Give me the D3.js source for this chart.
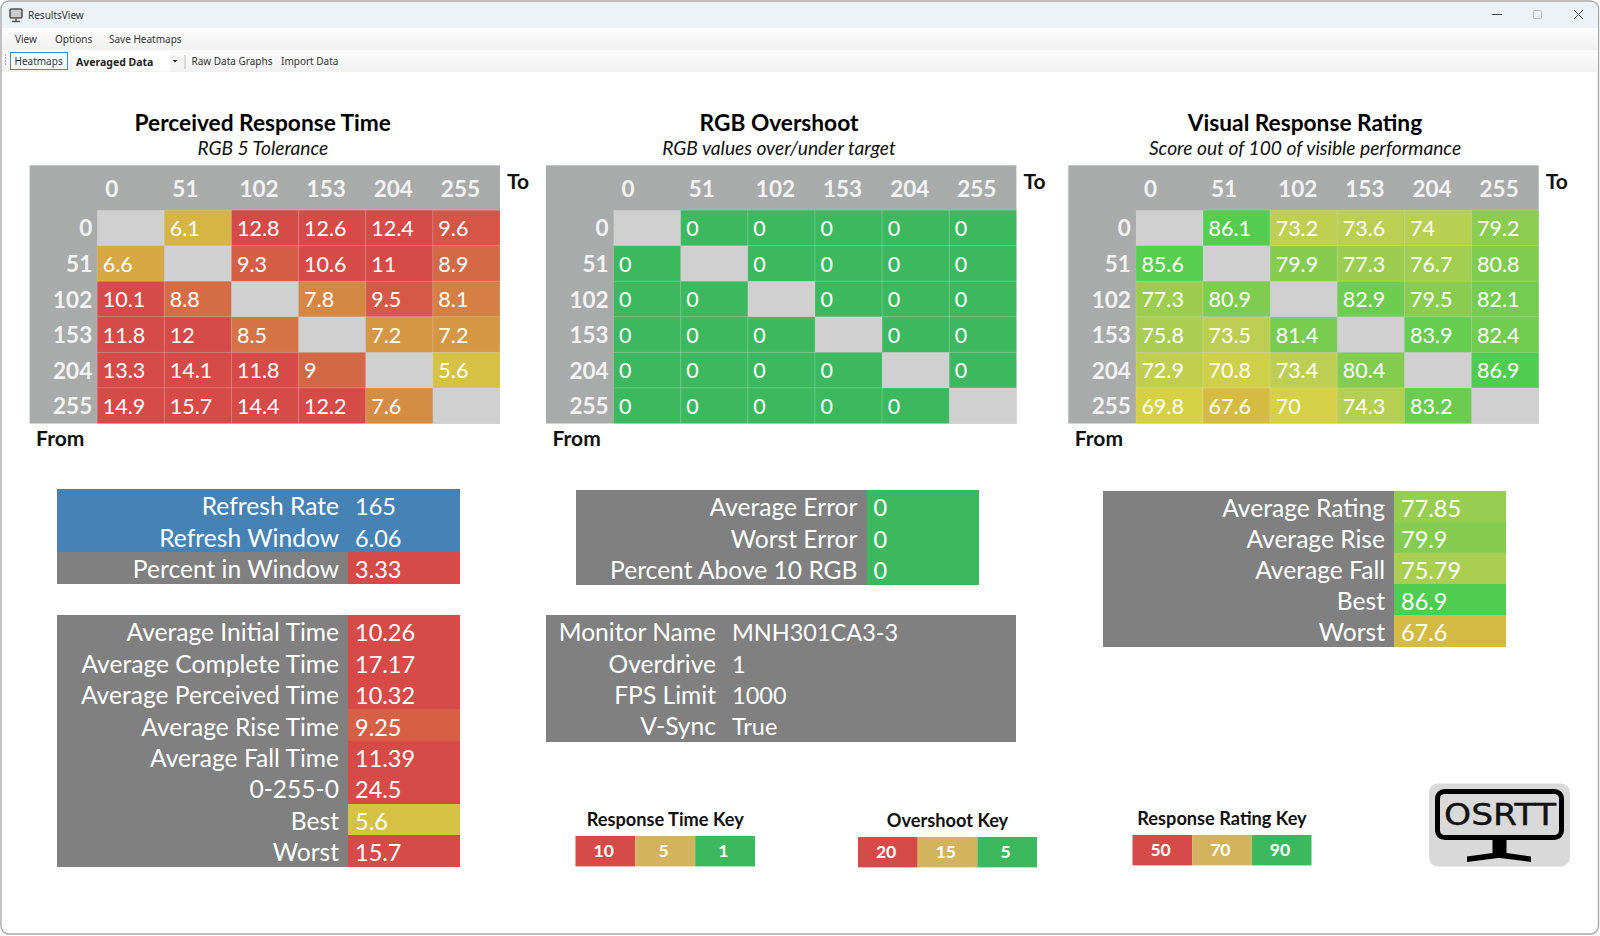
<!DOCTYPE html>
<html>
<head>
<meta charset="utf-8">
<title>ResultsView</title>
<script src="https://cdn.jsdelivr.net/npm/d3@7"></script>
<style>
html,body{margin:0;padding:0;background:#fff;overflow:hidden}
svg{display:block}
text{font-family:Lato,"Noto Sans",sans-serif}
.ui{font-family:"Noto Sans",sans-serif;font-size:10px;fill:#333}
</style>
</head>
<body>
<svg id="chart" width="1600" height="936"></svg>
<script>
// RGB levels tested on both axes
const levels = [0, 51, 102, 153, 204, 255];

// From (row) -> To (column) results; null marks the untested diagonal
const responseTimes = [
  [null, 6.1, 12.8, 12.6, 12.4, 9.6],
  [6.6, null, 9.3, 10.6, 11, 8.9],
  [10.1, 8.8, null, 7.8, 9.5, 8.1],
  [11.8, 12, 8.5, null, 7.2, 7.2],
  [13.3, 14.1, 11.8, 9, null, 5.6],
  [14.9, 15.7, 14.4, 12.2, 7.6, null]
];
const overshoot = [
  [null, 0, 0, 0, 0, 0],
  [0, null, 0, 0, 0, 0],
  [0, 0, null, 0, 0, 0],
  [0, 0, 0, null, 0, 0],
  [0, 0, 0, 0, null, 0],
  [0, 0, 0, 0, 0, null]
];
const ratings = [
  [null, 86.1, 73.2, 73.6, 74, 79.2],
  [85.6, null, 79.9, 77.3, 76.7, 80.8],
  [77.3, 80.9, null, 82.9, 79.5, 82.1],
  [75.8, 73.5, 81.4, null, 83.9, 82.4],
  [72.9, 70.8, 73.4, 80.4, null, 86.9],
  [69.8, 67.6, 70, 74.3, 83.2, null]
];

// Summary tables
const refreshLabels = ["Refresh Rate", "Refresh Window", "Percent in Window"];
const refreshValues = ["165", "6.06", "3.33"];
const timeLabels = ["Average Initial Time", "Average Complete Time", "Average Perceived Time", "Average Rise Time", "Average Fall Time", "0-255-0", "Best", "Worst"];
const timeValues = [10.26, 17.17, 10.32, 9.25, 11.39, 24.5, 5.6, 15.7];
const errorLabels = ["Average Error", "Worst Error", "Percent Above 10 RGB"];
const errorValues = [0, 0, 0];
const infoLabels = ["Monitor Name", "Overdrive", "FPS Limit", "V-Sync"];
const infoValues = ["MNH301CA3-3", "1", "1000", "True"];
const ratingLabels = ["Average Rating", "Average Rise", "Average Fall", "Best", "Worst"];
const ratingValues = [77.85, 79.9, 75.79, 86.9, 67.6];

// Colour keys
const timeKey = [10, 5, 1];
const overshootKey = [20, 15, 5];
const ratingKey = [50, 70, 90];

const RED = "#d64a47", GOLD = "#d4b35f", GREEN = "#3cb95f";
const HEAD = "#a9aaaa", EMPTY = "#d0d0d0", SLATE = "#808080", BLUE = "#4682b4";

const timeColor = d3.scaleLinear()
  .domain([1, 5.6, 6.6, 7.6, 8.9, 10])
  .range([GREEN, "#d5c244", "#d6a844", "#d58c44", "#d46a45", RED])
  .clamp(true);
const overshootColor = d3.scaleLinear()
  .domain([5, 15, 20]).range([GREEN, GOLD, RED]).clamp(true);
const ratingColor = d3.scaleLinear()
  .domain([50, 67.6, 69.8, 73.5, 80, 86.9])
  .range([RED, "#d4bc44", "#d6d045", "#bccf52", "#85cc50", "#4fcd50"])
  .clamp(true);

const svg = d3.select("#chart");

// Application window: title bar, menu, toolbar
function drawWindowChrome() {
  svg.append("rect").attr("x", 1).attr("y", 1).attr("width", 1597.5).attr("height", 933)
    .attr("rx", 8).attr("fill", "#fff").attr("stroke", "#a8a8a8").attr("stroke-width", 1.4);
  svg.append("path").attr("d", "M2,28V9a7,7 0 0 1 7,-7H1591a7,7 0 0 1 7,7V28Z").attr("fill", "#ecf2f6");
  const grad = svg.append("defs").append("linearGradient")
    .attr("id", "menuFade").attr("x1", 0).attr("x2", 0).attr("y1", 0).attr("y2", 1);
  grad.append("stop").attr("offset", 0).attr("stop-color", "#fcfcfc");
  grad.append("stop").attr("offset", 1).attr("stop-color", "#f1f1f1");
  svg.append("rect").attr("x", 2).attr("y", 28).attr("width", 1596).attr("height", 22).attr("fill", "url(#menuFade)");
  svg.append("rect").attr("x", 2).attr("y", 50).attr("width", 1596).attr("height", 22).attr("fill", "url(#menuFade)");

  // Window icon
  const icon = svg.append("g").attr("fill", "none").attr("stroke", "#555");
  icon.append("rect").attr("x", 10).attr("y", 9).attr("width", 12).attr("height", 9).attr("rx", 1.5).attr("stroke-width", 1.6).attr("fill", "#ccc");
  icon.append("path").attr("d", "M16,18v3M12,21.5h8").attr("stroke-width", 1.6);

  svg.append("text").attr("class", "ui").attr("x", 28).attr("y", 19).text("ResultsView");
  [["View", 15], ["Options", 55], ["Save Heatmaps", 109]].forEach(([t, x]) =>
    svg.append("text").attr("class", "ui").attr("x", x).attr("y", 43).text(t));

  svg.selectAll(".grip").data([55, 58, 61, 64]).join("circle")
    .attr("cx", 5.5).attr("cy", d => d).attr("r", 0.7).attr("fill", "#999");

  svg.append("rect").attr("x", 10.5).attr("y", 52.5).attr("width", 57).attr("height", 17)
    .attr("fill", "#f6fbff").attr("stroke", "#3d8bd0").attr("stroke-width", 1);
  svg.append("text").attr("class", "ui").attr("x", 14.500).attr("y", 64.5).text("Heatmaps");
  svg.append("rect").attr("x", 72).attr("y", 51).attr("width", 98).attr("height", 20).attr("fill", "#fff");
  svg.append("text").attr("class", "ui").attr("x", 76).attr("y", 65.5)
    .style("font-size", "10.5px").style("font-weight", 700).style("fill", "#222").text("Averaged Data");
  svg.append("path").attr("d", "M172.5,60h5l-2.5,2.5Z").attr("fill", "#222");
  svg.append("line").attr("x1", 185).attr("x2", 185).attr("y1", 55).attr("y2", 69).attr("stroke", "#bbb");
  svg.append("text").attr("class", "ui").attr("x", 191.5).attr("y", 64.5).text("Raw Data Graphs");
  svg.append("text").attr("class", "ui").attr("x", 281).attr("y", 64.5).text("Import Data");

  // Window controls
  const ctl = svg.append("g").attr("fill", "none").attr("stroke", "#444").attr("stroke-width", 1);
  ctl.append("line").attr("x1", 1492).attr("x2", 1502).attr("y1", 14.5).attr("y2", 14.5);
  ctl.append("rect").attr("x", 1533.5).attr("y", 10.5).attr("width", 8).attr("height", 8).attr("rx", 1).attr("stroke", "#bbb");
  ctl.append("path").attr("d", "M1574,10L1583,19M1583,10L1574,19");
}

// One From/To matrix with its headings
function drawHeatmap(left, titleX, title, subtitle, values, color) {
  const top = 165.3, headH = 44.9, rowW = 67.6, width = 470.4, height = 258.2;
  const x = d3.scaleBand().domain(levels).range([left + rowW, left + width]);
  const y = d3.scaleBand().domain(levels).range([top + headH, top + height]);
  const g = svg.append("g");

  g.append("rect").attr("x", left).attr("y", top).attr("width", width).attr("height", height).attr("fill", HEAD);

  const cells = values.flatMap((row, r) => row.map((v, c) => ({ from: levels[r], to: levels[c], v })));
  g.selectAll(".cell").data(cells).join("rect")
    .attr("x", d => x(d.to)).attr("y", d => y(d.from))
    .attr("width", x.bandwidth()).attr("height", y.bandwidth())
    .attr("fill", d => d.v === null ? EMPTY : color(d.v))
    .attr("stroke", d => d.v === null ? "none" : "#ffffff")
    .attr("stroke-opacity", 0.14).attr("stroke-width", 1);
  g.selectAll(".val").data(cells.filter(d => d.v !== null)).join("text")
    .attr("x", d => x(d.to) + 5.5).attr("y", d => y(d.from) + y.bandwidth() / 2 + 8)
    .attr("fill", "#fff").style("font-size", "21.5px").text(d => d.v);

  g.selectAll(".colHead").data(levels).join("text")
    .attr("x", d => x(d) + 8).attr("y", top + 31.5)
    .attr("fill", "#f2f2f2").style("font-size", "22.5px").style("font-weight", 700).text(d => d);
  g.selectAll(".rowHead").data(levels).join("text")
    .attr("x", left + rowW - 5).attr("y", d => y(d) + y.bandwidth() / 2 + 8.5)
    .attr("text-anchor", "end").attr("fill", "#f2f2f2")
    .style("font-size", "22.5px").style("font-weight", 700).text(d => d);

  g.append("text").attr("x", left + width + 7).attr("y", top + 24).attr("fill", "#111")
    .style("font-size", "21px").style("font-weight", 700).text("To");
  g.append("text").attr("x", left + 6.5).attr("y", top + height + 22).attr("fill", "#111")
    .style("font-size", "21px").style("font-weight", 700).text("From");

  g.append("text").attr("x", titleX).attr("y", 131).attr("text-anchor", "middle").attr("fill", "#000")
    .style("font-size", "22.7px").style("font-weight", 700).text(title);
  g.append("text").attr("x", titleX).attr("y", 155).attr("text-anchor", "middle").attr("fill", "#111")
    .style("font-size", "19.2px").style("font-style", "italic").text(subtitle);
}

// Label/value table: labels on the left, values on a coloured column
function drawTable(box, labels, values, labelFill, valueFill) {
  const y = d3.scaleBand().domain(labels).range([box.top, box.bottom]);
  const g = svg.append("g");
  const band = g.append("g").attr("shape-rendering", "crispEdges");
  band.selectAll(".lab").data(labels).join("rect")
    .attr("x", box.left).attr("y", d => y(d)).attr("width", box.split - box.left)
    .attr("height", y.bandwidth() + 1).attr("fill", (d, i) => labelFill(i));
  band.selectAll(".valBox").data(labels).join("rect")
    .attr("x", box.split).attr("y", d => y(d)).attr("width", box.right - box.split)
    .attr("height", y.bandwidth() + 1).attr("fill", (d, i) => valueFill(values[i], i));
  g.selectAll(".labText").data(labels).join("text")
    .attr("x", box.split - 9).attr("y", d => y(d) + y.bandwidth() / 2 + 10.5)
    .attr("text-anchor", "end").attr("fill", "#fff").style("font-size", "24.6px").text(d => d);
  g.selectAll(".valText").data(values).join("text")
    .attr("x", box.split + 7).attr("y", (d, i) => y(labels[i]) + y.bandwidth() / 2 + 10.5)
    .attr("fill", "#fff").style("font-size", "23.5px").text(d => d);
}

// Three-stop colour key
function drawKey(left, right, top, title, keys) {
  const x = d3.scaleBand().domain(keys).range([left, right]);
  const fills = [RED, GOLD, GREEN];
  const g = svg.append("g");
  g.selectAll("rect").data(keys).join("rect")
    .attr("x", d => x(d)).attr("y", top).attr("width", x.bandwidth()).attr("height", 30.4)
    .attr("fill", (d, i) => fills[i]);
  g.selectAll(".keyVal").data(keys).join("text")
    .attr("x", d => x(d) + x.bandwidth() / 2 - 1.7).attr("y", top + 21)
    .attr("text-anchor", "middle").attr("fill", "#fff")
    .style("font-size", "17.5px").style("font-weight", 700).text(d => d);
  g.append("text").attr("x", (left + right) / 2).attr("y", top - 10)
    .attr("text-anchor", "middle").attr("fill", "#111")
    .style("font-size", "18.2px").style("font-weight", 700).text(title);
}

// OSRTT badge: a monitor outline on a stand
function drawLogo() {
  const g = svg.append("g");
  g.append("rect").attr("x", 1429).attr("y", 783.5).attr("width", 141).attr("height", 83).attr("rx", 9).attr("fill", "#d9d9d9");
  g.append("rect").attr("x", 1437.5).attr("y", 791.5).attr("width", 124).attr("height", 46).attr("rx", 7)
    .attr("fill", "none").attr("stroke", "#000").attr("stroke-width", 5);
  g.append("path").attr("d", "M1492.5,839h14v14l24.500,3.500v5.500l-31,-4h-2l-31,4v-5.500l25.500,-3.500Z").attr("fill", "#000");
  g.append("text").attr("x", 1444).attr("y", 825).attr("textLength", 112).attr("lengthAdjust", "spacingAndGlyphs")
    .attr("fill", "#111").attr("stroke", "#111").attr("stroke-width", 0.4)
    .style("font-family", "'DejaVu Sans',sans-serif").style("font-size", "30px").text("OSRTT");
}

drawWindowChrome();

drawHeatmap(29.6, 262.8, "Perceived Response Time", "RGB 5 Tolerance", responseTimes, timeColor);
drawHeatmap(546, 779, "RGB Overshoot", "RGB values over/under target", overshoot, () => GREEN);
drawHeatmap(1068.3, 1305, "Visual Response Rating", "Score out of 100 of visible performance", ratings, ratingColor);

drawTable({ left: 57, split: 348, right: 460, top: 489, bottom: 583 }, refreshLabels, refreshValues,
  i => i < 2 ? BLUE : SLATE, (v, i) => i < 2 ? BLUE : RED);
drawTable({ left: 57, split: 348, right: 460, top: 615.3, bottom: 866.3 }, timeLabels, timeValues,
  () => SLATE, v => timeColor(v));
drawTable({ left: 575.5, split: 866.5, right: 978.6, top: 490, bottom: 584 }, errorLabels, errorValues,
  () => SLATE, () => GREEN);
drawTable({ left: 546, split: 725, right: 1016.4, top: 615.3, bottom: 740.5 }, infoLabels, infoValues,
  () => SLATE, () => SLATE);
drawTable({ left: 1103, split: 1394, right: 1506, top: 491, bottom: 646 }, ratingLabels, ratingValues,
  () => SLATE, v => ratingColor(v));

drawKey(575.5, 755, 836, "Response Time Key", timeKey);
drawKey(858, 1037, 837, "Overshoot Key", overshootKey);
drawKey(1132.5, 1311.5, 835, "Response Rating Key", ratingKey);

drawLogo();
</script>
</body>
</html>
